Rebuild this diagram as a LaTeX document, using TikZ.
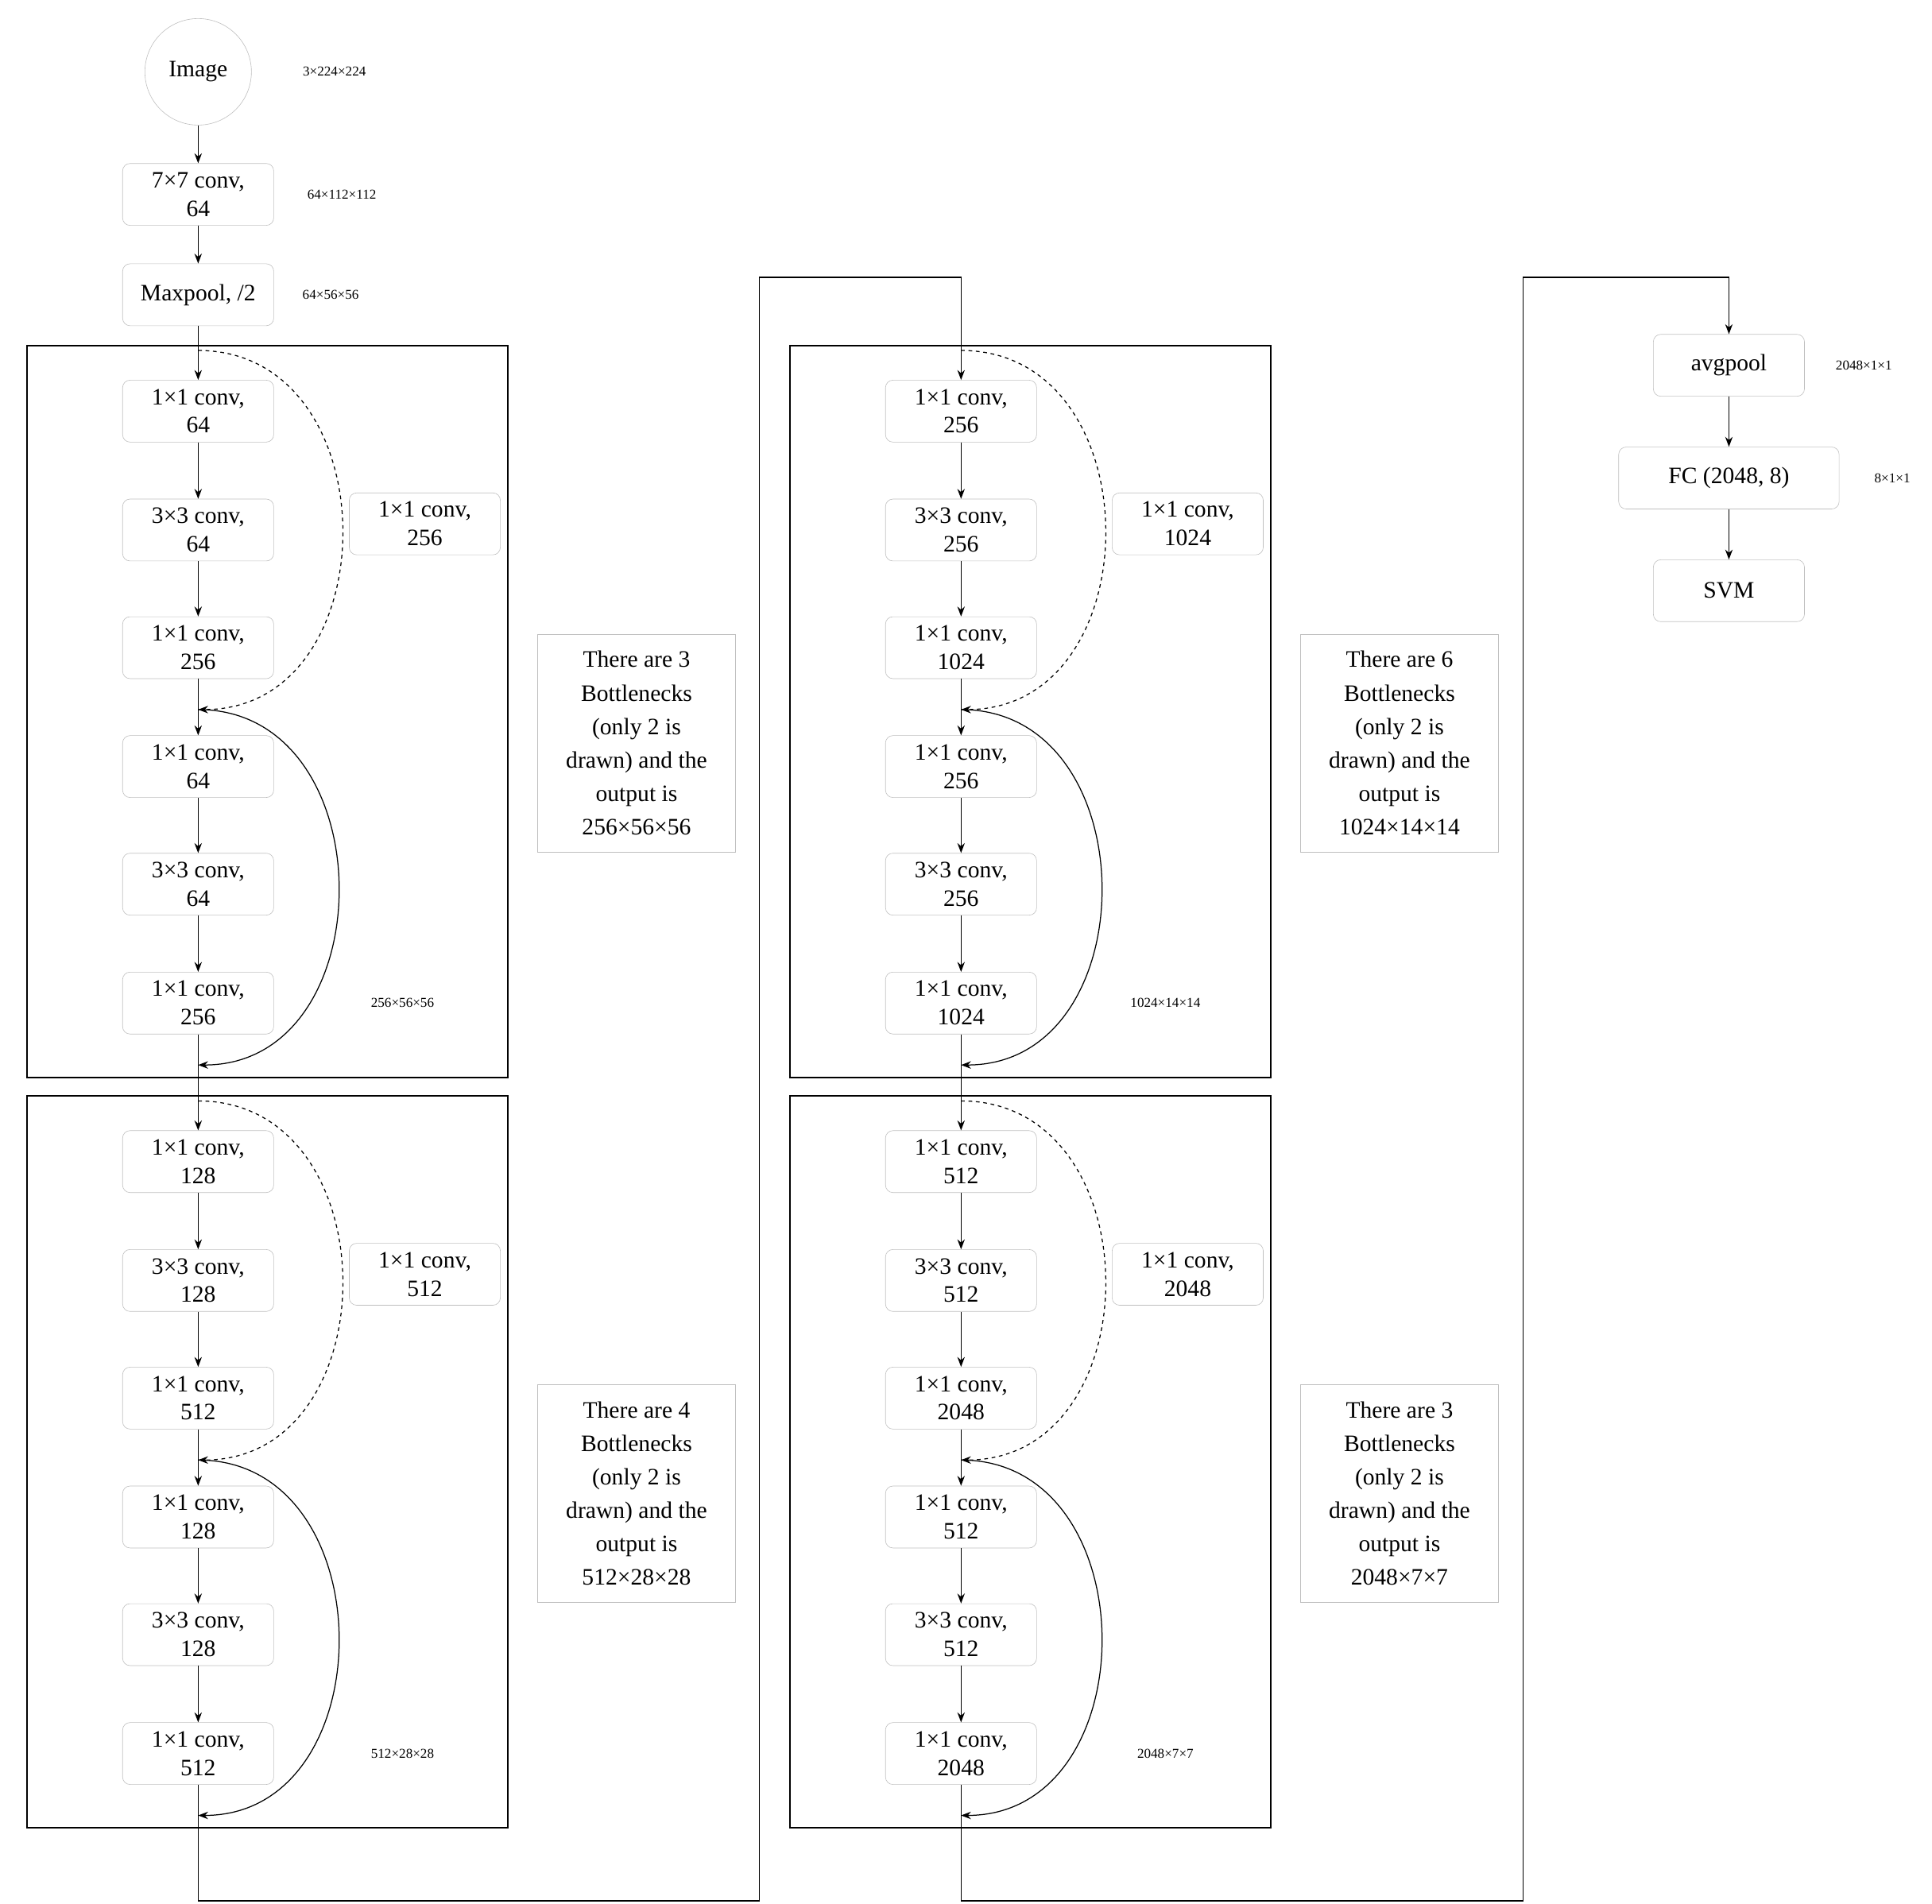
\documentclass[tikz,border=0pt]{standalone}
\usepackage{fontspec}
\setmainfont{Liberation Serif}
\usetikzlibrary{arrows.meta}
\begin{document}
\begin{tikzpicture}[x=1pt,y=-1pt,
 bx/.style={draw=black!25,rounded corners=6pt,minimum width=122pt,minimum height=50pt,align=center,font=\fontsize{19}{23}\selectfont,inner sep=1pt},
 tb/.style={draw=black!25,minimum width=160pt,minimum height=176pt,align=center,font=\fontsize{19}{27}\selectfont},
 sm/.style={font=\fontsize{11}{13}\selectfont},
 frame/.style={draw=black,line width=1.2pt},
 ar/.style={-{Stealth[length=8pt,width=6pt]},line width=0.8pt},
 ln/.style={line width=0.8pt}]
\useasboundingbox (0,0) rectangle (1560,1537);
\node[draw=black!25,circle,minimum size=86pt,font=\fontsize{19}{23}\selectfont] (img) at (160,58) {Image};
\node[sm] (limg) at (270,58) {3×224×224};
\node[bx] (c7) at (160,157) {7×7 conv,\\64};
\node[sm] (lc7) at (276,157) {64×112×112};
\node[bx] (mp) at (160,238) {Maxpool, /2};
\node[sm] (lmp) at (267,238) {64×56×56};
\draw[ar] (img) -- (c7);
\draw[ar] (c7) -- (mp);
% blocks
\newcommand{\blk}[9]{% #1 prefix, #2 x, #3 ytop, #4 a, #5 b, #6 c(side), #7 out label, #8 text, #9 textx
 \draw[frame] (#2-138,#3) rectangle (#2+250,#3+591);
 \node[bx] (#1a) at (#2,#3+53) {1×1 conv,\\#4};
 \node[bx] (#1b) at (#2,#3+149) {3×3 conv,\\#4};
 \node[bx] (#1c) at (#2,#3+244) {1×1 conv,\\#5};
 \node[bx] (#1d) at (#2,#3+340) {1×1 conv,\\#4};
 \node[bx] (#1e) at (#2,#3+435) {3×3 conv,\\#4};
 \node[bx] (#1f) at (#2,#3+531) {1×1 conv,\\#5};
 \node[bx] (#1s) at (#2+183,#3+144) {1×1 conv,\\#6};
 \node[sm] (#1l) at (#2+165,#3+531) {#7};
 \node[tb] (#1t) at (#9,#3+321) {#8};
 \coordinate (#1p) at (#2,#3+4);
 \coordinate (#1m) at (#2,#3+294);
 \coordinate (#1q) at (#2,#3+581);
 \coordinate (#1qb) at (#2,#3+591);
 \draw[ar] (#1a) -- (#1b); \draw[ar] (#1b) -- (#1c);
 \draw[ar] (#1c) -- (#1d); \draw[ar] (#1d) -- (#1e); \draw[ar] (#1e) -- (#1f);
 \draw[ln,dashed,-{Stealth[length=8pt,width=6pt]}] (#1p) .. controls (#2+155,#3+4) and (#2+155,#3+294) .. (#1m);
 \draw[ln,-{Stealth[length=8pt,width=6pt]}] (#1m) .. controls (#2+151,#3+294) and (#2+151,#3+581) .. (#1q);
}
\blk{A}{160}{279}{64}{256}{256}{256×56×56}{There are 3\\Bottlenecks\\(only 2 is\\drawn) and the\\output is\\256×56×56}{514}
\blk{B}{160}{885}{128}{512}{512}{512×28×28}{There are 4\\Bottlenecks\\(only 2 is\\drawn) and the\\output is\\512×28×28}{514}
\blk{C}{776}{279}{256}{1024}{1024}{1024×14×14}{There are 6\\Bottlenecks\\(only 2 is\\drawn) and the\\output is\\1024×14×14}{1130}
\blk{D}{776}{885}{512}{2048}{2048}{2048×7×7}{There are 3\\Bottlenecks\\(only 2 is\\drawn) and the\\output is\\2048×7×7}{1130}
\draw[ar] (mp) -- (Aa);
\draw[ar] (Af) -- (Ba);
\draw[ar] (Cf) -- (Da);
\coordinate (k1) at (160,1535); \coordinate (k2) at (613,1535);
\coordinate (k3) at (613,224); \coordinate (k4) at (776,224);
\draw[ar] (Bf.south) -- (k1) -- (k2) -- (k3) -- (k4) -- (Ca);
\node[bx] (avg) at (1396,295) {avgpool};
\node[sm] (lavg) at (1505,295) {2048×1×1};
\node[bx,minimum width=178pt] (fc) at (1396,386) {FC (2048, 8)};
\node[sm] (lfc) at (1528,386) {8×1×1};
\node[bx] (svm) at (1396,477) {SVM};
\coordinate (m1) at (776,1535); \coordinate (m2) at (1230,1535);
\coordinate (m3) at (1230,224); \coordinate (m4) at (1396,224);
\draw[ar] (Df.south) -- (m1) -- (m2) -- (m3) -- (m4) -- (avg);
\draw[ar] (avg) -- (fc);
\draw[ar] (fc) -- (svm);
\end{tikzpicture}
\end{document}
